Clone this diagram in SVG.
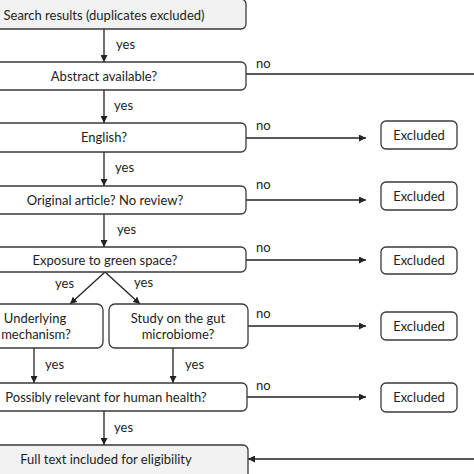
<svg xmlns="http://www.w3.org/2000/svg" width="474" height="474" viewBox="0 0 474 474">
<style>
.box{fill:#fff;stroke:#3a3a3a;stroke-width:1.3}
.gray{fill:#f2f2f2}
.t{font-family:Lato,"Open Sans","Liberation Sans",sans-serif;font-size:13px;fill:#222;text-anchor:middle;dominant-baseline:central}
.lbl{font-family:Lato,"Open Sans","Liberation Sans",sans-serif;font-size:13px;fill:#222;dominant-baseline:central}
.c{stroke:#222;stroke-width:1.3;fill:none}
</style>
<defs>
<marker id="ah" viewBox="0 0 10 10" refX="10" refY="5" markerWidth="7" markerHeight="7" markerUnits="userSpaceOnUse" orient="auto">
<path d="M0,0 L10,5 L0,10 z" fill="#222"/>
</marker>
</defs>
<g id="connectors">
<line class="c" x1="104" y1="29" x2="104" y2="62" marker-end="url(#ah)"/>
<line class="c" x1="104" y1="90" x2="104" y2="123" marker-end="url(#ah)"/>
<line class="c" x1="104" y1="152" x2="104" y2="186" marker-end="url(#ah)"/>
<line class="c" x1="104" y1="214" x2="104" y2="247" marker-end="url(#ah)"/>
<line class="c" x1="105" y1="272" x2="70" y2="304" marker-end="url(#ah)"/>
<line class="c" x1="105" y1="272" x2="140" y2="304" marker-end="url(#ah)"/>
<line class="c" x1="34" y1="348" x2="34" y2="383" marker-end="url(#ah)"/>
<line class="c" x1="173" y1="348" x2="173" y2="383" marker-end="url(#ah)"/>
<line class="c" x1="104" y1="411" x2="104" y2="445" marker-end="url(#ah)"/>
<line class="c" x1="246" y1="74" x2="474" y2="74"/>
<line class="c" x1="246" y1="138" x2="366" y2="138" marker-end="url(#ah)"/>
<line class="c" x1="246" y1="200" x2="366" y2="200" marker-end="url(#ah)"/>
<line class="c" x1="246" y1="260" x2="366" y2="260" marker-end="url(#ah)"/>
<line class="c" x1="248" y1="326" x2="366" y2="326" marker-end="url(#ah)"/>
<line class="c" x1="247" y1="397" x2="366" y2="397" marker-end="url(#ah)"/>
<line class="c" x1="474" y1="459" x2="248" y2="459" marker-end="url(#ah)"/>
<text class="lbl" x="116" y="44">yes</text>
<text class="lbl" x="114" y="105">yes</text>
<text class="lbl" x="115" y="167">yes</text>
<text class="lbl" x="117" y="229">yes</text>
<text class="lbl" x="55" y="283">yes</text>
<text class="lbl" x="134" y="282">yes</text>
<text class="lbl" x="45" y="364">yes</text>
<text class="lbl" x="185" y="364">yes</text>
<text class="lbl" x="114" y="427">yes</text>
<text class="lbl" x="256" y="63">no</text>
<text class="lbl" x="256" y="125">no</text>
<text class="lbl" x="256" y="184">no</text>
<text class="lbl" x="256" y="247">no</text>
<text class="lbl" x="256" y="313">no</text>
<text class="lbl" x="256" y="385">no</text>
</g>
<g id="n1"><rect class="box gray" x="-6" y="-1" width="252" height="30" rx="5"/><text class="t" x="104" y="15">Search results (duplicates excluded)</text></g>
<g id="n2"><rect class="box" x="-6" y="62" width="252" height="28" rx="5"/><text class="t" x="104" y="76">Abstract available?</text></g>
<g id="n3"><rect class="box" x="-6" y="123" width="252" height="29" rx="5"/><text class="t" x="104" y="137">English?</text></g>
<g id="n4"><rect class="box" x="-6" y="186" width="252" height="28" rx="5"/><text class="t" x="105" y="200">Original article? No review?</text></g>
<g id="n5"><rect class="box" x="-6" y="247" width="252" height="25" rx="5"/><text class="t" x="105" y="260">Exposure to green space?</text></g>
<g id="n6"><rect class="box" x="-6" y="304" width="109" height="44" rx="6"/><text class="t" x="35" y="318">Underlying</text><text class="t" x="36" y="334">mechanism?</text></g>
<g id="n7"><rect class="box" x="109" y="304" width="139" height="44" rx="6"/><text class="t" x="178" y="318">Study on the gut</text><text class="t" x="178" y="334">microbiome?</text></g>
<g id="n8"><rect class="box" x="-6" y="383" width="253" height="28" rx="5"/><text class="t" x="106" y="397">Possibly relevant for human health?</text></g>
<g id="n9"><rect class="box gray" x="-6" y="445" width="254" height="34" rx="5"/><text class="t" x="106" y="459">Full text included for eligibility</text></g>
<g id="e1"><rect class="box" x="381" y="121" width="76" height="28" rx="5"/><text class="t" x="419" y="135">Excluded</text></g>
<g id="e2"><rect class="box" x="381" y="182" width="76" height="28" rx="5"/><text class="t" x="419" y="196">Excluded</text></g>
<g id="e3"><rect class="box" x="381" y="247" width="76" height="27" rx="5"/><text class="t" x="419" y="260">Excluded</text></g>
<g id="e4"><rect class="box" x="381" y="312" width="76" height="28" rx="5"/><text class="t" x="419" y="326">Excluded</text></g>
<g id="e5"><rect class="box" x="381" y="383" width="76" height="29" rx="5"/><text class="t" x="419" y="397">Excluded</text></g>
</svg>
